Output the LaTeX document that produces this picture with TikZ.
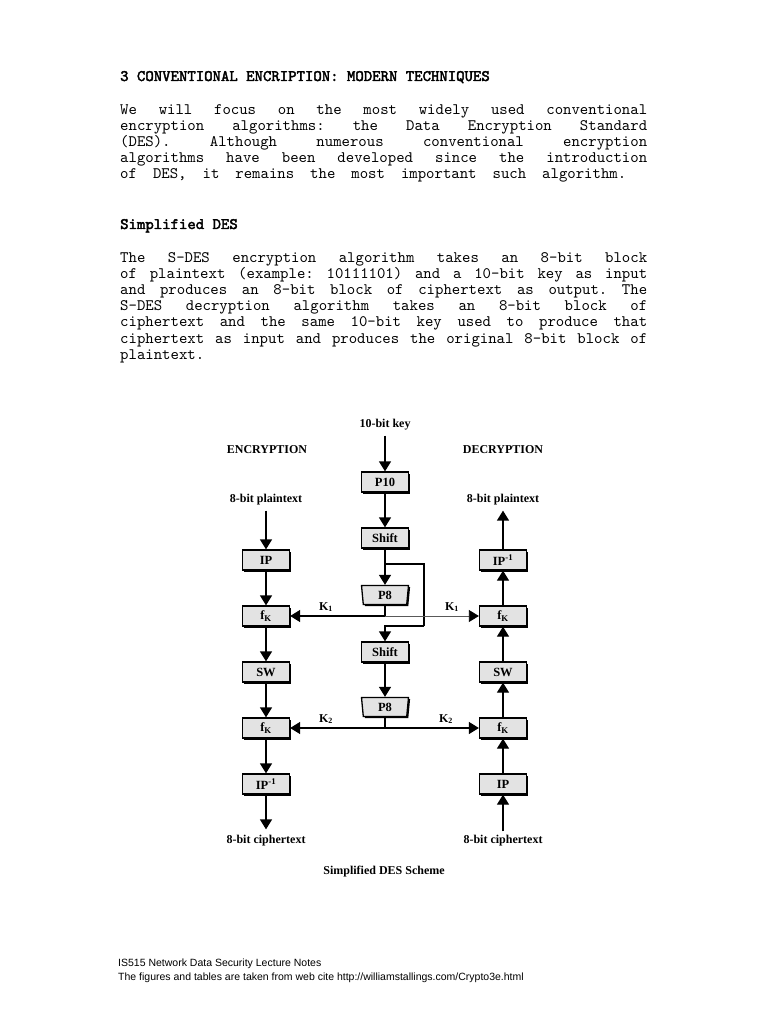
\documentclass[tikz,border=0pt]{standalone}
\usepackage{fontspec}
\setmainfont{Liberation Serif}
\setmonofont{lmmono10-regular.otf}
\newfontfamily\monobf{lmmono10-regular.otf}[FakeBold=2.5]
\setsansfont{Liberation Sans}
\usetikzlibrary{arrows.meta,shapes.geometric,shadows}
\newcommand{\jline}[2]{\makebox[#1][s]{\spaceskip=0.525em plus 1fil\relax #2}}
\tikzset{
  mono/.style={anchor=base west, inner sep=0pt, font=\fontsize{16}{16}\selectfont\ttfamily\frenchspacing},
  monob/.style={anchor=base west, inner sep=0pt, font=\monobf\fontsize{16}{16}\selectfont\frenchspacing},
  foot/.style={anchor=base west, inner sep=0pt, font=\fontsize{10.5}{12}\selectfont\sffamily},
  lbl/.style={inner sep=1pt, font=\bfseries\fontsize{12}{13}\selectfont},
  boxshadow/.style={drop shadow={shadow xshift=1.6pt, shadow yshift=-1.6pt, fill=black, opacity=1}},
  blk/.style={draw, line width=1.3pt, fill=black!11, minimum width=47pt, minimum height=20pt,
    inner sep=0pt, font=\bfseries\fontsize{12.5}{13}\selectfont, boxshadow},
  trap/.style={trapezium, shape border rotate=180, trapezium angle=78, trapezium stretches body,
    draw, line width=1.3pt, fill=black!11, minimum width=47pt, minimum height=19pt,
    inner sep=0pt, font=\bfseries\fontsize{12.5}{13}\selectfont, boxshadow},
  ln/.style={line width=1.3pt},
  arr/.style={line width=1.3pt, -{Triangle[width=12pt,length=10pt]}},
  thinarr/.style={line width=0.8pt, draw=black!65, -{Triangle[width=12pt,length=10pt,color=black]}},
}
\begin{document}
\begin{tikzpicture}[x=1pt,y=-1pt]
\path[use as bounding box, fill=white] (0,0) rectangle (768,1024);

% ---- text ----
\node[monob] (h1) at (120,81) {3 CONVENTIONAL ENCRIPTION: MODERN TECHNIQUES};
\node[mono] (a1) at (120,115) {\jline{527pt}{We will focus on the most widely used conventional}};
\node[mono] (a2) at (120,131) {\jline{527pt}{encryption algorithms: the Data Encryption Standard}};
\node[mono] (a3) at (120,147) {\jline{527pt}{(DES). Although numerous conventional encryption}};
\node[mono] (a4) at (120,163) {\jline{527pt}{algorithms have been developed since the introduction}};
\node[mono] (a5) at (120,179) {\jline{506pt}{of DES, it remains the most important such algorithm.}};

\node[monob] (h2) at (120,229) {Simplified DES};
\node[mono] (b1) at (120,262) {\jline{527pt}{The S-DES encryption algorithm takes an 8-bit block}};
\node[mono] (b2) at (120,278) {\jline{527pt}{of plaintext (example: 10111101) and a 10-bit key as input}};
\node[mono] (b3) at (120,294) {\jline{527pt}{and produces an 8-bit block of ciphertext as output. The}};
\node[mono] (b4) at (120,310) {\jline{527pt}{S-DES decryption algorithm takes an 8-bit block of}};
\node[mono] (b5) at (120,326) {\jline{527pt}{ciphertext and the same 10-bit key used to produce that}};
\node[mono] (b6) at (120,343) {\jline{527pt}{ciphertext as input and produces the original 8-bit block of}};
\node[mono] (b7) at (120,359) {plaintext.};

\node[foot] (f1) at (118,966) {IS515 Network Data Security Lecture Notes};
\node[foot] (f2) at (118,980) {The figures and tables are taken from web cite http://williamstallings.com/Crypto3e.html};

% ---- diagram labels ----
\node[lbl] (key) at (385,425) {10-bit key};
\node[lbl] (enc) at (267,450) {ENCRYPTION};
\node[lbl] (dec) at (503,450) {DECRYPTION};
\node[lbl] (ptl) at (266,500) {8-bit plaintext};
\node[lbl] (ptr) at (503,500) {8-bit plaintext};
\node[lbl] (ctl) at (266,841) {8-bit ciphertext};
\node[lbl] (ctr) at (503,841) {8-bit ciphertext};
\node[lbl] (cap) at (384,872) {Simplified DES Scheme};

% ---- key schedule ----
\node[blk] (p10) at (385,482) {P10};
\node[blk] (sh1) at (385,538) {Shift};
\node[trap] (p8a) at (385,595) {P8};
\node[blk] (sh2) at (385,652) {Shift};
\node[trap] (p8b) at (385,707) {P8};

% ---- encryption ----
\node[blk] (ipl) at (266,560) {IP};
\node[blk] (fk1l) at (266,616) {f\textsubscript{K}};
\node[blk] (swl) at (266,672) {SW};
\node[blk] (fk2l) at (266,728) {f\textsubscript{K}};
\node[blk] (ipil) at (266,784) {IP\textsuperscript{-1}};

% ---- decryption ----
\node[blk] (ipir) at (503,560) {IP\textsuperscript{-1}};
\node[blk] (fk1r) at (503,616) {f\textsubscript{K}};
\node[blk] (swr) at (503,672) {SW};
\node[blk] (fk2r) at (503,728) {f\textsubscript{K}};
\node[blk] (ipr) at (503,784) {IP};

% ---- key labels ----
\node[lbl] (k1l) at (326,607) {K\textsubscript{1}};
\node[lbl] (k1r) at (452,607) {K\textsubscript{1}};
\node[lbl] (k2l) at (326,719) {K\textsubscript{2}};
\node[lbl] (k2r) at (446,719) {K\textsubscript{2}};

% ---- coordinates ----
\coordinate (br) at (385,564);
\coordinate (bc1) at (424,564);
\coordinate (bc2) at (424,626);
\coordinate (k1) at (385,616);
\coordinate (k2) at (385,728);

% ---- key schedule connectors ----
\draw[arr, shorten <=4pt] (key) -- (p10);
\draw[arr] (p10) -- (sh1);
\draw[arr] (sh1) -- (p8a);
\draw[ln] (br) -- (bc1) -- (bc2);
\draw[arr] (bc2) -| (sh2.north);
\draw[arr] (sh2) -- (p8b);
\draw[ln] (p8a) -- (k1);
\draw[arr] (k1) -- (fk1l.east);
\draw[thinarr] (k1) -- (fk1r.west);
\draw[ln] (p8b) -- (k2);
\draw[arr] (k2) -- (fk2l.east);
\draw[arr] (k2) -- (fk2r.west);

% ---- encryption connectors ----
\draw[arr, shorten <=4pt] (ptl) -- (ipl);
\draw[arr] (ipl) -- (fk1l);
\draw[arr] (fk1l) -- (swl);
\draw[arr] (swl) -- (fk2l);
\draw[arr] (fk2l) -- (ipil);
\draw[arr, shorten >=5pt] (ipil) -- (ctl);

% ---- decryption connectors ----
\draw[arr, shorten <=3pt] (ctr) -- (ipr);
\draw[arr] (ipr) -- (fk2r);
\draw[arr] (fk2r) -- (swr);
\draw[arr] (swr) -- (fk1r);
\draw[arr] (fk1r) -- (ipir);
\draw[arr, shorten >=4pt] (ipir) -- (ptr);
\end{tikzpicture}
\end{document}
